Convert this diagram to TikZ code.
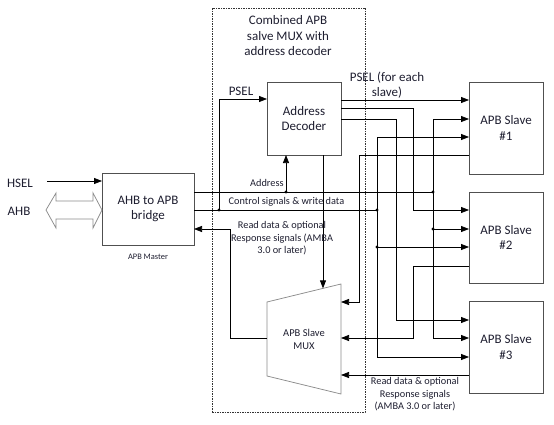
\documentclass[tikz,border=0pt]{standalone}
\usepackage{fontspec}
\setmainfont{Carlito}
\usepackage{tikz}
\usetikzlibrary{arrows.meta}

\definecolor{txt}{RGB}{30,30,48}
\definecolor{edge}{RGB}{80,80,80}
\definecolor{lite}{RGB}{140,140,140}

\begin{document}
\begin{tikzpicture}[x=1pt,y=-1pt,->,>={Triangle[length=8pt,width=6pt]},
  line width=0.75pt,
  block/.style={draw=edge,fill=white,inner sep=0pt,outer sep=0pt,align=center,
    text=txt,font=\fontsize{13}{15.5}\selectfont},
  big lbl/.style={inner sep=0pt,align=center,text=txt,font=\fontsize{13}{15.5}\selectfont},
  lbl/.style={inner sep=0pt,align=center,text=txt,font=\fontsize{10.3}{12.6}\selectfont},
  dot/.style={circle,fill=black,inner sep=0pt,minimum size=3.2pt}]

  \useasboundingbox (0,0) rectangle (554,425);

  % dashed group round decoder and mux
  \node[draw=black!80,line width=0.5pt,dash pattern=on 1.5pt off 1pt,
    minimum width=153pt,minimum height=404pt,inner sep=0pt] (grp) at (288.5,210) {};
  \node[big lbl] (title) at (288,36) {Combined APB\\salve MUX with\\address decoder};

  % blocks
  \node[block,minimum width=92pt,minimum height=72pt] (bridge) at (148,209) {AHB to APB\\bridge};
  \node[lbl,font=\fontsize{8.4}{10}\selectfont] (master) at (148,257) {APB Master};
  \node[block,minimum width=74pt,minimum height=73pt] (dec) at (304,118.5) {Address\\Decoder};
  \node[block,minimum width=74pt,minimum height=92pt] (s1) at (506,128) {APB Slave\\\#1};
  \node[block,minimum width=74pt,minimum height=91pt] (s2) at (506,237.5) {APB Slave\\\#2};
  \node[block,minimum width=74pt,minimum height=92pt] (s3) at (506,347) {APB Slave\\\#3};

  % mux (trapezoid)
  \node[inner sep=0pt,outer sep=0pt,minimum width=74pt,minimum height=110pt,align=center,
    text=txt,font=\fontsize{10.5}{13}\selectfont] (mux) at (304,339) {APB Slave\\MUX};
  \draw[-,draw=lite] ([yshift=-18pt]mux.north west) -- (mux.north east)
    -- (mux.south east) -- ([yshift=18pt]mux.south west) -- cycle;

  % inputs on the left
  \node[big lbl] (hsel) at (20,183) {HSEL};
  \node[big lbl] (ahb) at (19,211) {AHB};
  \coordinate (hsel in) at (47,181);
  \draw[->] (hsel in) -- (bridge.west |- hsel in);
  \draw[-,draw=lite,fill=white] (46,210) -- (56,193) -- (56,201) -- (93,201) -- (93,193)
    -- (bridge.west |- 0,210) -- (93,228) -- (93,219) -- (56,219) -- (56,228) -- cycle;

  % junctions
  \coordinate (ja) at (286,192);
  \coordinate (jb) at (433,192);
  \coordinate (jc) at (219,210);
  \coordinate (jd) at (377,210);
  \coordinate (mxt) at (323,288.4);

  % address and control buses
  \draw[-] (bridge.east |- ja) -- (jb);
  \draw[-] (bridge.east |- jc) -- (jd);
  \draw[->] (ja) -- (dec.south -| ja);
  \draw[->] (jc) |- (dec.west |- 0,99);
  \draw[->] (jb) |- (s1.west |- 0,119);
  \draw[->] (jb) |- (s2.west |- 0,229);
  \draw[->] (jb) |- (s3.west |- 0,338);
  \draw[->] (jd) |- (s1.west |- 0,137);
  \draw[->] (jd) |- (s2.west |- 0,247);
  \draw[->] (jd) |- (s3.west |- 0,357);

  % PSEL per slave
  \draw[->] (dec.east |- 0,100) -- (s1.west |- 0,100);
  \draw[->] (dec.east |- 0,108) -- (413,108) |- (s2.west |- 0,210);
  \draw[->] (dec.east |- 0,119) -- (396,119) |- (s3.west |- 0,320);
  \draw[->] (dec.south -| mxt) -- (mxt);

  % read data back
  \draw[->] (s1.west |- 0,155) -- (359,155) |- (mux.east |- 0,302);
  \draw[->] (s2.west |- 0,266) -- (413,266) |- (mux.east |- 0,338);
  \draw[->] (s3.west |- 0,375) -- (mux.east |- 0,375);
  \draw[->] (mux.west |- 0,338) -- (230,338) |- (bridge.east |- 0,229);

  \foreach \p in {ja,jb,jc,jd,{433,229},{377,247}}
    \node[dot] at (\p) {};

  % labels
  \node[big lbl] (psel) at (241,91) {PSEL};
  \node[big lbl] (psel each) at (387,85) {PSEL (for each\\slave)};
  \node[lbl,anchor=east] (addr) at (284,183) {Address};
  \node[lbl] (ctrl) at (286.5,202) {Control signals \& write data};
  \node[lbl] (rd m) at (282,238.5) {Read data \& optional\\Response signals (AMBA\\3.0 or later)};
  \node[lbl] (rd s) at (415,394.5) {Read data \& optional\\Response signals\\(AMBA 3.0 or later)};
\end{tikzpicture}
\end{document}
